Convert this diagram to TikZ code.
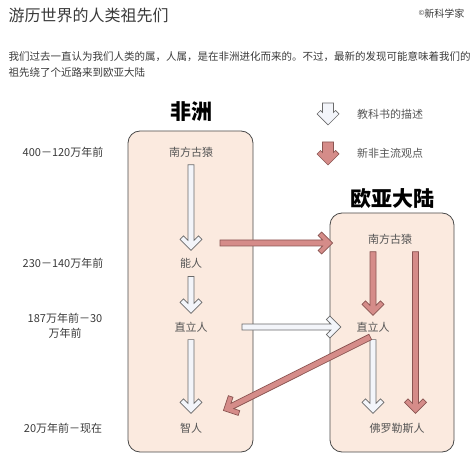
\documentclass[tikz,border=0pt]{standalone}
\usepackage{fontspec}
\setmainfont{Noto Sans CJK SC}
\usepackage{xcolor}
\usepackage{tikz}
\usetikzlibrary{calc}
\definecolor{boxfill}{HTML}{FBEADF}
\definecolor{boxline}{HTML}{4A4A4A}
\definecolor{redfill}{HTML}{D58C89}
\definecolor{redline}{HTML}{8A5552}
\definecolor{wfill}{HTML}{F3F5FA}
\definecolor{wline}{HTML}{6A6A6A}
\definecolor{inktext}{HTML}{3A3A3A}
\definecolor{softtext}{HTML}{555555}
\tikzstyle{region}   = [rectangle, draw=boxline, fill=boxfill, line width=0.8pt, rounded corners=12pt, inner sep=0pt]
\tikzstyle{species}  = [text=softtext, font=\fontsize{11}{13}\selectfont]
\tikzstyle{era}      = [text=inktext, font=\fontsize{11}{15}\selectfont, align=center]
\tikzstyle{heading}  = [text=black, font=\fontsize{21}{24}\selectfont\bfseries]
\tikzstyle{textbook} = [draw=wline, fill=wfill]
\tikzstyle{newview}  = [draw=redline, fill=redfill]
\tikzset{
  fat gap/.code 2 args={\def\fatgs{#1}\def\fatge{#2}},
  fat width/.code={\def\fatw{#1}},
  fat gap={4pt}{4pt}, fat width=3pt,
  fat/.style={line width=0.7pt, line join=miter, to path={
       ($(\tikztostart)!\fatgs!(\tikztotarget)!\fatw!90:(\tikztotarget)$)
    -- ($(\tikztotarget)!\fatge!(\tikztostart)!7pt+\fatw!(\tikztostart)!\fatw!-90:(\tikztostart)$)
    -- ($(\tikztotarget)!\fatge!(\tikztostart)!14.5pt!(\tikztostart)!7.5pt!-90:(\tikztostart)$)
    -- ($(\tikztotarget)!\fatge!(\tikztostart)!11pt!(\tikztostart)!11pt!-90:(\tikztostart)$)
    -- ($(\tikztotarget)!\fatge!(\tikztostart)$)
    -- ($(\tikztotarget)!\fatge!(\tikztostart)!11pt!(\tikztostart)!11pt!90:(\tikztostart)$)
    -- ($(\tikztotarget)!\fatge!(\tikztostart)!14.5pt!(\tikztostart)!7.5pt!90:(\tikztostart)$)
    -- ($(\tikztotarget)!\fatge!(\tikztostart)!7pt+\fatw!(\tikztostart)!\fatw!90:(\tikztostart)$)
    -- ($(\tikztostart)!\fatgs!(\tikztotarget)!\fatw!-90:(\tikztotarget)$)
    -- cycle}}
}
\begin{document}
\begin{tikzpicture}[x=1pt, y=-1pt]
    \useasboundingbox (0,0) rectangle (474,457);

    \node (title) at (5,15) [anchor=west, text=inktext, font=\fontsize{16}{18}\selectfont] {游历世界的人类祖先们};
    \node (credit) at (468,14) [anchor=east, text=inktext, font=\fontsize{10}{12}\selectfont]
          {\raisebox{2pt}{\fontsize{7}{7}\selectfont ©}新科学家};
    \node (intro) at (5,64) [anchor=west, align=left, text=inktext, font=\fontsize{10.5}{16}\selectfont]
          {我们过去一直认为我们人类的属，人属，是在非洲进化而来的。不过，最新的发现可能意味着我们的\\祖先绕了个近路来到欧亚大陆};

    \node (afbox) at (190.5,291.5) [region, minimum width=125pt, minimum height=321pt] {};
    \node (eubox) at (392,332.5)   [region, minimum width=124pt, minimum height=239pt] {};
    \node (afname) at (191,112) [heading] {非洲};
    \node (euname) at (392,199) [heading] {欧亚大陆};

    \node (t1) at (63,152) [era] {400－120万年前};
    \node (t2) at (63,263) [era] {230－140万年前};
    \node (t3) at (65,326) [era] {187万年前－30\\万年前};
    \node (t4) at (63,428) [era] {20万年前－现在};

    \node (na) at (191,152) [species] {南方古猿};
    \node (nh) at (191,263) [species] {能人};
    \node (ne) at (191,327) [species] {直立人};
    \node (ns) at (191,428) [species] {智人};
    \node (ea) at (390,239) [species] {南方古猿};
    \node (ez) at (373,327) [species] {直立人};
    \node (fl) at (397,428) [species] {佛罗勒斯人};

    \coordinate (lw1) at (328,103);
    \coordinate (lw2) at (328,125);
    \coordinate (lr1) at (328,142);
    \coordinate (lr2) at (328,165);
    \coordinate (mig) at (220,243);
    \node (lwt) at (390,114) [species] {教科书的描述};
    \node (lrt) at (390,153) [species] {新非主流观点};

    \draw [fat, textbook, fat width=5.5pt, fat gap={0pt}{0pt}] (lw1) to (lw2);
    \draw [fat, newview,  fat width=5.5pt, fat gap={0pt}{0pt}] (lr1) to (lr2);

    \draw [fat, textbook, fat gap={4pt}{4pt}]   (na.south) to (nh.north);
    \draw [fat, textbook, fat gap={5pt}{5pt}]   (nh.south) to (ne.north);
    \draw [fat, textbook, fat gap={4pt}{6pt}]   (ne.south) to (ns.north);
    \draw [fat, textbook, fat gap={31pt}{12pt}] (ne.east)  to (ez.west);
    \draw [fat, textbook, fat gap={4pt}{6pt}]   (ez.south) to (ez.south |- fl.north);

    \draw [fat, newview, fat gap={0pt}{-3pt}]  (mig) to (eubox.west |- mig);
    \draw [fat, newview, fat gap={4pt}{3pt}]   (ez |- ea.south) to (ez.north);
    \draw [fat, newview, fat gap={4pt}{6pt}]   (ea.south east) to (ea.south east |- fl.north);
    \draw [fat, newview, fat gap={3pt}{20pt}]  (ez.south) to (ns.north east);
\end{tikzpicture}
\end{document}
